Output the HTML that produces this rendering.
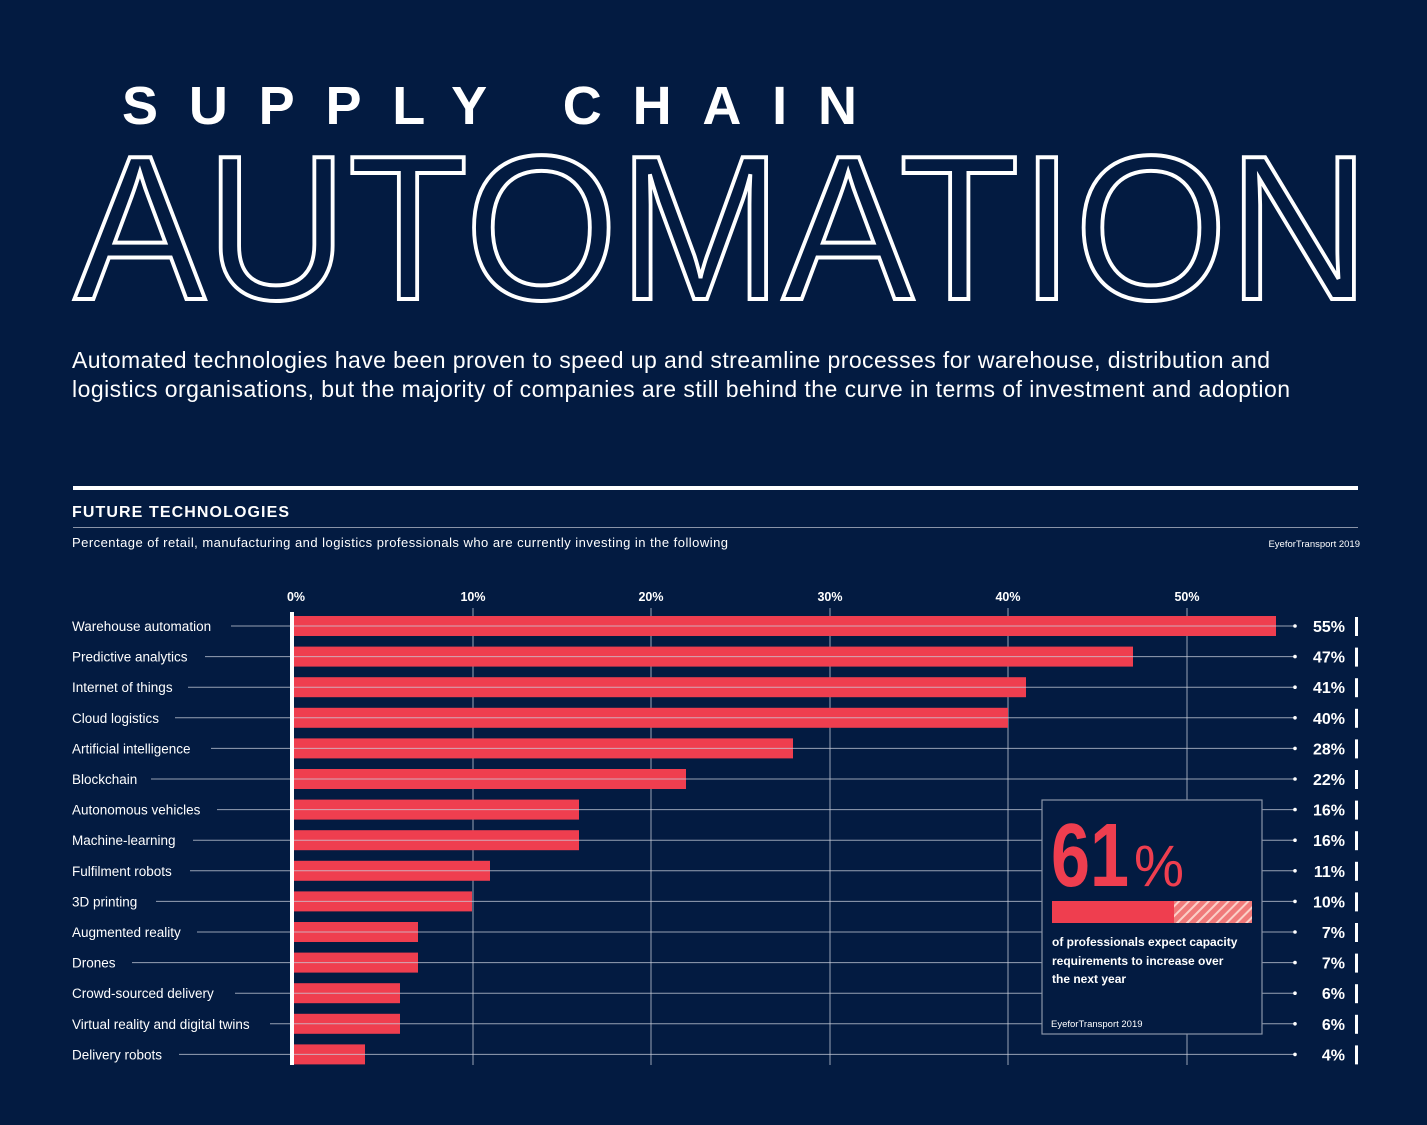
<!DOCTYPE html>
<html><head><meta charset="utf-8"><style>
html,body{margin:0;padding:0;background:#031b41;}
svg{display:block;font-family:"Liberation Sans",sans-serif;}
</style></head><body>
<svg width="1427" height="1125" viewBox="0 0 1427 1125" xmlns="http://www.w3.org/2000/svg">
<defs>
<pattern id="h" width="7" height="7" patternUnits="userSpaceOnUse" patternTransform="rotate(45)">
<rect width="7" height="7" fill="#f07a7a"/><rect width="2" height="7" fill="#fbd0c8"/>
</pattern>
</defs>
<rect width="1427" height="1125" fill="#031b41"/>
<text x="122" y="124" fill="#fff" font-size="54" font-weight="bold" textLength="735" lengthAdjust="spacing">SUPPLY CHAIN</text>
<text x="74" y="299" fill="none" stroke="#fff" stroke-width="4" font-size="206" textLength="1296" lengthAdjust="spacingAndGlyphs">AUTOMATION</text>
<text x="72" y="368" fill="#fff" font-size="23" textLength="1198">Automated technologies have been proven to speed up and streamline processes for warehouse, distribution and</text>
<text x="72" y="397" fill="#fff" font-size="23" textLength="1218">logistics organisations, but the majority of companies are still behind the curve in terms of investment and adoption</text>
<rect x="73" y="486" width="1285" height="4" fill="#fff"/>
<text x="72" y="517" fill="#fff" font-size="16" font-weight="bold" textLength="217">FUTURE TECHNOLOGIES</text>
<rect x="73" y="527" width="1285" height="1" fill="#8a94a8"/>
<text x="72" y="547" fill="#fff" font-size="13" textLength="656">Percentage of retail, manufacturing and logistics professionals who are currently investing in the following</text>
<text x="1360" y="547" fill="#fff" font-size="9.5" text-anchor="end">EyeforTransport 2019</text>
<g fill="#fff" font-size="12.5" font-weight="bold" text-anchor="middle">
<text x="296" y="601">0%</text><text x="473" y="601">10%</text><text x="651" y="601">20%</text><text x="830" y="601">30%</text><text x="1008" y="601">40%</text><text x="1187" y="601">50%</text>
</g>
<g stroke="#9aa3b5" stroke-width="1">
<line x1="473" y1="608" x2="473" y2="1065"/><line x1="651" y1="608" x2="651" y2="1065"/><line x1="830" y1="608" x2="830" y2="1065"/><line x1="1008" y1="608" x2="1008" y2="1065"/><line x1="1187" y1="608" x2="1187" y2="1065"/>
</g>
<g fill="#ef3e4f">
<rect x="293" y="616" width="983" height="20"/>
<rect x="293" y="646.6" width="840" height="20"/>
<rect x="293" y="677.2" width="733" height="20"/>
<rect x="293" y="707.8" width="715" height="20"/>
<rect x="293" y="738.4" width="500" height="20"/>
<rect x="293" y="769" width="393" height="20"/>
<rect x="293" y="799.6" width="286" height="20"/>
<rect x="293" y="830.2" width="286" height="20"/>
<rect x="293" y="860.8" width="197" height="20"/>
<rect x="293" y="891.4" width="179" height="20"/>
<rect x="293" y="922" width="125" height="20"/>
<rect x="293" y="952.6" width="125" height="20"/>
<rect x="293" y="983.2" width="107" height="20"/>
<rect x="293" y="1013.8" width="107" height="20"/>
<rect x="293" y="1044.4" width="72" height="20"/>
</g>
<g stroke="#c9cfdb" stroke-opacity="0.75" stroke-width="1">
<line x1="231" y1="626" x2="1295" y2="626"/>
<line x1="205" y1="656.6" x2="1295" y2="656.6"/>
<line x1="188" y1="687.2" x2="1295" y2="687.2"/>
<line x1="175" y1="717.8" x2="1295" y2="717.8"/>
<line x1="211" y1="748.4" x2="1295" y2="748.4"/>
<line x1="151" y1="779" x2="1295" y2="779"/>
<line x1="217" y1="809.6" x2="1295" y2="809.6"/>
<line x1="193" y1="840.2" x2="1295" y2="840.2"/>
<line x1="190" y1="870.8" x2="1295" y2="870.8"/>
<line x1="156" y1="901.4" x2="1295" y2="901.4"/>
<line x1="197" y1="932" x2="1295" y2="932"/>
<line x1="132" y1="962.6" x2="1295" y2="962.6"/>
<line x1="235" y1="993.2" x2="1295" y2="993.2"/>
<line x1="270" y1="1023.8" x2="1295" y2="1023.8"/>
<line x1="179" y1="1054.4" x2="1295" y2="1054.4"/>
</g>
<g fill="#fff">
<circle cx="1295" cy="626" r="1.8"/><circle cx="1295" cy="656.6" r="1.8"/><circle cx="1295" cy="687.2" r="1.8"/><circle cx="1295" cy="717.8" r="1.8"/><circle cx="1295" cy="748.4" r="1.8"/><circle cx="1295" cy="779" r="1.8"/><circle cx="1295" cy="809.6" r="1.8"/><circle cx="1295" cy="840.2" r="1.8"/><circle cx="1295" cy="870.8" r="1.8"/><circle cx="1295" cy="901.4" r="1.8"/><circle cx="1295" cy="932" r="1.8"/><circle cx="1295" cy="962.6" r="1.8"/><circle cx="1295" cy="993.2" r="1.8"/><circle cx="1295" cy="1023.8" r="1.8"/><circle cx="1295" cy="1054.4" r="1.8"/>
</g>
<g fill="#fff" font-size="13.5">
<text x="72" y="631">Warehouse automation</text>
<text x="72" y="661.6">Predictive analytics</text>
<text x="72" y="692.2">Internet of things</text>
<text x="72" y="722.8">Cloud logistics</text>
<text x="72" y="753.4">Artificial intelligence</text>
<text x="72" y="784">Blockchain</text>
<text x="72" y="814.6">Autonomous vehicles</text>
<text x="72" y="845.2">Machine-learning</text>
<text x="72" y="875.8">Fulfilment robots</text>
<text x="72" y="906.4">3D printing</text>
<text x="72" y="937">Augmented reality</text>
<text x="72" y="967.6">Drones</text>
<text x="72" y="998.2">Crowd-sourced delivery</text>
<text x="72" y="1028.8">Virtual reality and digital twins</text>
<text x="72" y="1059.4">Delivery robots</text>
</g>
<g fill="#fff" font-size="16" font-weight="bold" text-anchor="end">
<text x="1345" y="632">55%</text>
<text x="1345" y="662.6">47%</text>
<text x="1345" y="693.2">41%</text>
<text x="1345" y="723.8">40%</text>
<text x="1345" y="754.4">28%</text>
<text x="1345" y="785">22%</text>
<text x="1345" y="815.6">16%</text>
<text x="1345" y="846.2">16%</text>
<text x="1345" y="876.8">11%</text>
<text x="1345" y="907.4">10%</text>
<text x="1345" y="938">7%</text>
<text x="1345" y="968.6">7%</text>
<text x="1345" y="999.2">6%</text>
<text x="1345" y="1029.8">6%</text>
<text x="1345" y="1060.4">4%</text>
</g>
<g fill="#fff">
<rect x="1355" y="617" width="3" height="19"/><rect x="1355" y="647.6" width="3" height="19"/><rect x="1355" y="678.2" width="3" height="19"/><rect x="1355" y="708.8" width="3" height="19"/><rect x="1355" y="739.4" width="3" height="19"/><rect x="1355" y="770" width="3" height="19"/><rect x="1355" y="800.6" width="3" height="19"/><rect x="1355" y="831.2" width="3" height="19"/><rect x="1355" y="861.8" width="3" height="19"/><rect x="1355" y="892.4" width="3" height="19"/><rect x="1355" y="923" width="3" height="19"/><rect x="1355" y="953.6" width="3" height="19"/><rect x="1355" y="984.2" width="3" height="19"/><rect x="1355" y="1014.8" width="3" height="19"/><rect x="1355" y="1045.4" width="3" height="19"/>
</g>
<rect x="290" y="612" width="4" height="453" fill="#fff"/>
<rect x="1042" y="800" width="220" height="234" fill="#031b41" stroke="#8a94a8" stroke-width="1.2"/>
<text x="1051" y="886" fill="#ef3e4f" font-size="90" font-weight="bold" textLength="78" lengthAdjust="spacingAndGlyphs">61</text>
<text x="1134" y="886" fill="#ef3e4f" font-size="58" textLength="50" lengthAdjust="spacingAndGlyphs">%</text>
<rect x="1052" y="901" width="122" height="22" fill="#ef3e4f"/>
<rect x="1174" y="901" width="78" height="22" fill="url(#h)"/>
<g fill="#fff" font-size="12" font-weight="bold">
<text x="1052" y="946">of professionals expect capacity</text>
<text x="1052" y="965">requirements to increase over</text>
<text x="1052" y="983">the next year</text>
</g>
<text x="1051" y="1027" fill="#fff" font-size="9.5">EyeforTransport 2019</text>
</svg>
</body></html>
